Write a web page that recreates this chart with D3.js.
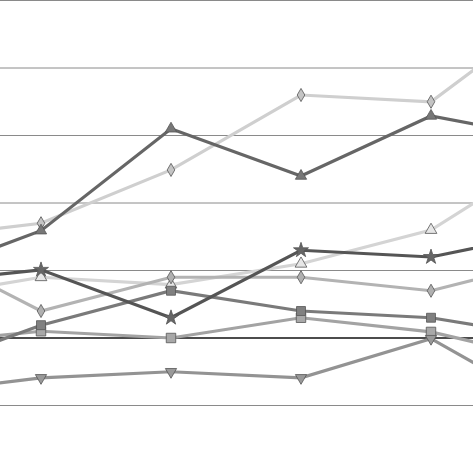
<!DOCTYPE html><html><head><style>body{margin:0;background:#fff}</style>
<script src="https://cdn.jsdelivr.net/npm/d3@7"></script></head><body><svg id="c" width="473" height="473"></svg>
<script>
const periods=[0,1,2,3,4,5];
const gridTicks=[-1,1,2,3,4,5];
const sLightDiamond=[1.47,1.70,2.49,3.60,3.50,4.93];
const sDarkTriangle=[0.87,1.59,3.10,2.40,3.29,2.93];
const sStar=[0.81,1.01,0.30,1.30,1.20,1.60];
const sLightTriangle=[0.58,0.90,0.79,1.10,1.60,2.81];
const sDiamond=[1.39,0.40,0.90,0.90,0.70,1.19];
const sDarkSquare=[-0.52,0.19,0.70,0.40,0.30,-0.01];
const sLightSquare=[-0.09,0.10,0.00,0.30,0.09,-0.36];
const sDownTri=[-0.83,-0.59,-0.50,-0.59,-0.01,-1.10];
const series=[
 {v:sLightDiamond,c:"#cfcfcf",f:"#c4c4c4",m:d3.symbolDiamond,s:50},
 {v:sLightTriangle,c:"#d4d4d4",f:"#e6e6e6",m:d3.symbolTriangle,s:60},
 {v:sDiamond,c:"#b3b3b3",f:"#b0b0b0",m:d3.symbolDiamond,s:50},
 {v:sLightSquare,c:"#a3a3a3",f:"#a8a8a8",m:d3.symbolSquare,s:90},
 {v:sDarkSquare,c:"#7a7a7a",f:"#808080",m:d3.symbolSquare,s:80},
 {v:sDownTri,c:"#939393",f:"#999",m:"down",s:55},
 {v:sDarkTriangle,c:"#666",f:"#777",m:d3.symbolTriangle,s:55},
 {v:sStar,c:"#555",f:"#666",m:d3.symbolStar,s:70}];
const svg=d3.select("#c");
const x=d3.scaleLinear().domain([0,5]).range([-89,561]);
const y=d3.scaleLinear().domain([-1,5]).range([405.5,0.5]);
svg.append("g").selectAll("line").data(gridTicks).join("line")
 .attr("x1",0).attr("x2",473).attr("y1",d=>y(d)).attr("y2",d=>y(d)).attr("stroke","#8a8a8a").attr("stroke-width",1);
svg.append("line").attr("x1",0).attr("x2",473).attr("y1",y(0)).attr("y2",y(0)).attr("stroke","#111").attr("stroke-width",1.5);
const line=d3.line().x((d,i)=>x(periods[i])).y(d=>y(d));
series.forEach(s=>{
 svg.append("path").attr("d",line(s.v)).attr("fill","none").attr("stroke",s.c).attr("stroke-width",3.2);
});
series.forEach(s=>{
 const sym=s.m==="down"?d3.symbol(d3.symbolTriangle,s.s):d3.symbol(s.m,s.s);
 svg.append("g").selectAll("path").data(s.v).join("path").attr("d",sym)
  .attr("transform",(d,i)=>`translate(${x(periods[i])},${y(d)})${s.m==="down"?" rotate(180)":""}`)
  .attr("fill",s.f).attr("stroke","#555").attr("stroke-width",0.8);
});
</script></body></html>
